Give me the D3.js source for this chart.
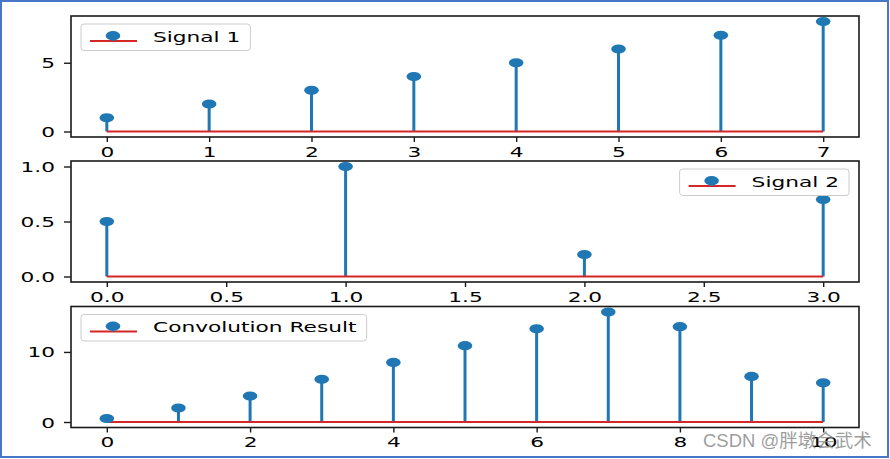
<!DOCTYPE html>
<html><head><meta charset="utf-8">
<script src="https://cdn.jsdelivr.net/npm/d3@7"></script>
<style>body{margin:0;background:#fff}svg{display:block}</style>
</head><body><svg id="c" width="890" height="459"></svg>
<script>
// ---- data ----
const signal1 = [1, 2, 3, 4, 5, 6, 7, 8];
const signal2 = [0.5, 1.0, 0.2, 0.7];
const convResult = [0.5, 2.0, 3.7, 6.1, 8.5, 10.9, 13.3, 15.7, 13.6, 6.5, 5.6];
const seriesLabels = ["Signal 1", "Signal 2", "Convolution Result"];
const xTicks1 = [0, 1, 2, 3, 4, 5, 6, 7];
const xTicks2 = [0, 0.5, 1, 1.5, 2, 2.5, 3];
const xTicks3 = [0, 2, 4, 6, 8, 10];
const yTicks1 = [0, 5];
const yTicks2 = [0, 0.5, 1];
const yTicks3 = [0, 10];
const watermark = "CSDN @胖墩会武术";

// ---- style / layout ----
const SX = 1.55;           // horizontal stretch of the original picture's text
const FONT = "'DejaVu Sans', sans-serif";
const BLUE = "#1f77b4", RED = "#d62728";
const left = 71, right = 859, ph = 121;
const tops = [16, 161, 306.5];

const svg = d3.select("#c");
svg.append("rect").attr("width", 890).attr("height", 459).attr("fill", "#fff");

function pad(lo, hi) { const r = hi - lo; return [lo - 0.05 * r, hi + 0.05 * r]; }

const panels = [
  {data: signal1, xt: xTicks1, yt: yTicks1, xf: d3.format("d"), yf: d3.format("d"), label: seriesLabels[0], legend: "left"},
  {data: signal2, xt: xTicks2, yt: yTicks2, xf: d3.format(".1f"), yf: d3.format(".1f"), label: seriesLabels[1], legend: "right"},
  {data: convResult, xt: xTicks3, yt: yTicks3, xf: d3.format("d"), yf: d3.format("d"), label: seriesLabels[2], legend: "left"}
];

panels.forEach((p, i) => {
  const top = tops[i], bottom = top + ph;
  const n = p.data.length;
  const x = d3.scaleLinear().domain(pad(0, n - 1)).range([left, right]);
  const y = d3.scaleLinear().domain(pad(Math.min(0, d3.min(p.data)), d3.max(p.data))).range([bottom, top]);
  const g = svg.append("g");

  // stems
  g.selectAll("line.stem").data(p.data).join("line")
    .attr("x1", (d, j) => x(j)).attr("x2", (d, j) => x(j))
    .attr("y1", y(0)).attr("y2", d => y(d))
    .attr("stroke", BLUE).attr("stroke-width", 3);
  // baseline
  g.append("line").attr("x1", x(0)).attr("x2", x(n - 1)).attr("y1", y(0)).attr("y2", y(0))
    .attr("stroke", RED).attr("stroke-width", 2.2);
  // markers
  g.selectAll("ellipse").data(p.data).join("ellipse")
    .attr("cx", (d, j) => x(j)).attr("cy", d => y(d))
    .attr("rx", 7.3).attr("ry", 4.6).attr("fill", BLUE);

  // frame
  g.append("rect").attr("x", left).attr("y", top).attr("width", right - left).attr("height", ph)
    .attr("fill", "none").attr("stroke", "#1a1a1a").attr("stroke-width", 1.6);

  // x axis
  const xa = g.append("g").attr("transform", `translate(0,${bottom})`)
    .call(d3.axisBottom(x).tickValues(p.xt).tickFormat(p.xf).tickSize(5).tickSizeOuter(0));
  xa.select(".domain").remove();
  xa.selectAll(".tick line").attr("stroke", "#1a1a1a").attr("stroke-width", 1.4);
  xa.selectAll(".tick text").attr("y", 20).attr("dy", null)
    .attr("transform", `scale(${SX},1)`)
    .style("font-family", FONT).style("font-size", "14px").attr("fill", "#000");

  // y axis
  const ya = g.append("g").attr("transform", `translate(${left},0)`)
    .call(d3.axisLeft(y).tickValues(p.yt).tickFormat(p.yf).tickSize(7).tickSizeOuter(0));
  ya.select(".domain").remove();
  ya.selectAll(".tick line").attr("stroke", "#1a1a1a").attr("stroke-width", 1.4);
  ya.selectAll(".tick text").attr("x", -16 / SX).attr("dy", "0.36em")
    .attr("transform", `scale(${SX},1)`)
    .style("font-family", FONT).style("font-size", "14px").attr("fill", "#000");

  // legend
  const lg = g.append("g");
  const box = lg.append("rect");
  const txt = lg.append("text").text(p.label)
    .style("font-family", FONT).style("font-size", "14px").attr("fill", "#000");
  const tw = txt.node().getComputedTextLength() * SX;
  const bw = 72 + tw + 10, bh = 26.5;
  const bx = p.legend === "left" ? left + 10 : right - 10 - bw;
  const by = top + 8;
  box.attr("x", bx).attr("y", by).attr("width", bw).attr("height", bh).attr("rx", 3)
    .attr("fill", "#fff").attr("fill-opacity", 0.8).attr("stroke", "#cccccc").attr("stroke-width", 1);
  txt.attr("transform", `translate(${bx + 72},${by + 17.5}) scale(${SX},1)`);
  lg.append("line").attr("x1", bx + 9).attr("x2", bx + 56).attr("y1", by + 17).attr("y2", by + 17)
    .attr("stroke", RED).attr("stroke-width", 2.2);
  lg.append("line").attr("x1", bx + 32).attr("x2", bx + 32).attr("y1", by + 17).attr("y2", by + 11.7)
    .attr("stroke", BLUE).attr("stroke-width", 3);
  lg.append("ellipse").attr("cx", bx + 32).attr("cy", by + 11.7).attr("rx", 7.3).attr("ry", 4.6).attr("fill", BLUE);
});

// watermark
svg.append("text").attr("x", 703).attr("y", 447).text(watermark)
  .style("font-family", "'Liberation Sans','Noto Sans CJK SC',sans-serif").style("font-size", "18.5px")
  .attr("fill", "#8c8c8c").attr("fill-opacity", 0.85);

// outer blue border
svg.append("rect").attr("x", 1).attr("y", 1).attr("width", 887).attr("height", 456)
  .attr("fill", "none").attr("stroke", "#4876c6").attr("stroke-width", 2);
</script></body></html>
